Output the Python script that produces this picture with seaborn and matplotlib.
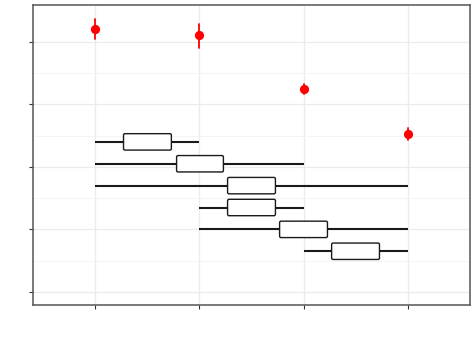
import numpy as np
import pandas as pd
import matplotlib
matplotlib.use("Agg")
import matplotlib.pyplot as plt
import seaborn as sns
from matplotlib.patches import FancyBboxPatch
from matplotlib.ticker import FixedLocator, NullFormatter

# ---- data ----
row_y = [2.40, 2.05, 1.70, 1.35, 1.00, 0.65]
whisker_low = [1, 1, 1, 2, 2, 3]
box_low = [1.27, 1.78, 2.27, 2.27, 2.77, 3.27]
box_mid = [1.50, 2.00, 2.50, 2.50, 3.00, 3.50]
box_high = [1.73, 2.23, 2.73, 2.73, 3.23, 3.73]
whisker_high = [2, 3, 4, 3, 4, 4]

point_x = [1, 2, 3, 4]
point_y = [4.20, 4.11, 3.25, 2.52]
point_lo = [4.04, 3.91, 3.17, 2.43]
point_hi = [4.36, 4.28, 3.33, 2.62]

x_ticks = [1, 2, 3, 4]
y_ticks = [0, 1, 2, 3, 4]
y_minor = [0.5, 1.5, 2.5, 3.5]

# ---- tables ----
box_rows = []
for i, y in enumerate(row_y):
    for v in (whisker_low[i], box_low[i], box_mid[i], box_high[i], whisker_high[i]):
        box_rows.append({"row": y, "value": v})
box_df = pd.DataFrame(box_rows)

pt_rows = []
for i, x in enumerate(point_x):
    for v in (point_lo[i], point_y[i], point_hi[i]):
        pt_rows.append({"x": x, "y": v})
pt_df = pd.DataFrame(pt_rows)

sns.set_style("white")
fig = plt.figure(figsize=(4.74, 3.38), dpi=100)
ax = fig.add_axes([33 / 474, 1 - 305 / 338, (470 - 33) / 474, (305 - 5) / 338])

sns.boxplot(data=box_df, x="value", y="row", orient="y", native_scale=True,
            width=0.75, whis=(0, 100), color="white", linecolor="#1a1a1a",
            linewidth=1.0, showcaps=False, showfliers=False,
            medianprops={"visible": False},
            whiskerprops={"linewidth": 1.5, "color": "#1a1a1a"},
            ax=ax, zorder=3)

# round the box corners
for p in list(ax.patches):
    ext = p.get_path().get_extents()
    fb = FancyBboxPatch((ext.x0, ext.y0), ext.width, ext.height,
                        boxstyle="round,pad=0,rounding_size=0.014",
                        mutation_aspect=1.7, facecolor="white",
                        edgecolor="#1a1a1a", linewidth=1.0, zorder=4)
    p.set_visible(False)
    ax.add_patch(fb)

sns.pointplot(data=pt_df, x="x", y="y", orient="x", native_scale=True,
              estimator="median", errorbar=("pi", 100), color="#FF0000",
              linestyle="none", markersize=4.6, err_kws={"linewidth": 1.3},
              ax=ax, zorder=5)

ax.set_xlim(0.40, 4.60)
ax.set_ylim(-0.21, 4.59)
ax.xaxis.set_major_locator(FixedLocator(x_ticks))
ax.yaxis.set_major_locator(FixedLocator(y_ticks))
ax.yaxis.set_minor_locator(FixedLocator(y_minor))
ax.xaxis.set_major_formatter(NullFormatter())
ax.yaxis.set_major_formatter(NullFormatter())
ax.set_xlabel("")
ax.set_ylabel("")
ax.grid(True, which="major", color="#EBEBEB", linewidth=0.9)
ax.grid(True, which="minor", axis="y", color="#F3F3F3", linewidth=0.6)
ax.set_axisbelow(True)
ax.tick_params(which="major", length=3, width=0.8, color="#333333",
               bottom=True, left=True, direction="out")
ax.tick_params(which="minor", length=0)
for s in ax.spines.values():
    s.set_color("#555555")
    s.set_linewidth(1.1)

fig.savefig("out.png", dpi=100)
